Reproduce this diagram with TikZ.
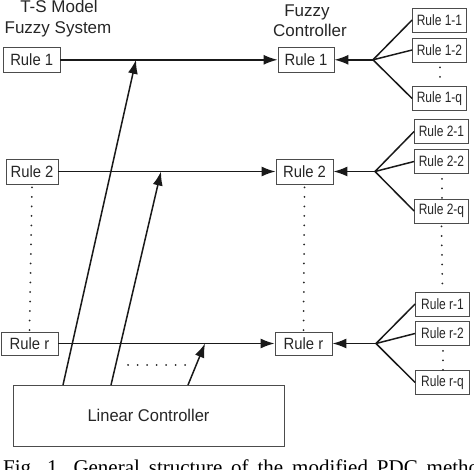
\documentclass[tikz,border=0pt]{standalone}
\usepackage{fontspec}
\setmainfont{Liberation Sans}
\newfontfamily\boxfont{Liberation Sans}[FakeStretch=0.91]
\newfontfamily\rboxfont{Liberation Sans}[FakeStretch=0.8]
\newfontfamily\lcfont{Liberation Sans}[FakeStretch=0.97]
\newfontfamily\capfont{Liberation Serif}
\usetikzlibrary{arrows.meta}
\begin{document}
\begin{tikzpicture}[x=1pt,y=-1pt,
 box/.style={draw=black!70, line width=0.8pt, inner sep=0pt, font=\boxfont\fontsize{16.3}{16.3}\selectfont, text=black!85},
 rbox/.style={draw=black!70, line width=0.8pt, minimum width=54pt, minimum height=24pt, inner sep=0pt, font=\rboxfont\fontsize{15}{15}\selectfont, text=black!85},
 conn/.style={line width=1.5pt, black!90},
 arr/.style={conn, -{Latex[length=14pt,width=10pt]}},
 dotline/.style={line width=2pt, dash pattern=on 0.01pt off 9.5pt, line cap=round, black!85},
 title/.style={font=\fontsize{17}{17}\selectfont, anchor=base, text=black!85}
]
\clip (0,0) rectangle (474,470);
\useasboundingbox (0,0) rectangle (474,470);

% titles
\node[title] (t1) at (59,12.5) {T-S Model};
\node[title] (t2) at (58,33.5) {Fuzzy System};
\node[title] (t3) at (307,17) {Fuzzy};
\node[title] (t4) at (310,37) {Controller};

% left column
\node[box, minimum width=56.5pt, minimum height=25pt] (L1) at (31.7,59.8) {Rule 1};
\node[box, minimum width=52pt, minimum height=25pt] (L2) at (32,171.5) {Rule 2};
\node[box, minimum width=57pt, minimum height=23pt] (Lr) at (29.5,343.5) {Rule r};

% fuzzy controller column
\node[box, minimum width=56pt, minimum height=25pt] (F1) at (306,59.8) {Rule 1};
\node[box, minimum width=57pt, minimum height=25pt] (F2) at (304.5,171.5) {Rule 2};
\node[box, minimum width=57pt, minimum height=23pt] (Fr) at (303.5,343.5) {Rule r};

% right column
\node[rbox] (R11) at (439.5,20) {Rule 1-1};
\node[rbox] (R12) at (439.5,50) {Rule 1-2};
\node[rbox] (R1q) at (439.5,98.5) {Rule 1-q};
\node[rbox] (R21) at (441.5,131.5) {Rule 2-1};
\node[rbox] (R22) at (441.5,161.5) {Rule 2-2};
\node[rbox] (R2q) at (441.5,211) {Rule 2-q};
\node[rbox] (Rr1) at (442.5,304) {Rule r-1};
\node[rbox] (Rr2) at (442.5,333.5) {Rule r-2};
\node[rbox] (Rrq) at (442.5,382.5) {Rule r-q};

% linear controller
\node[draw=black!70, line width=0.8pt, minimum width=271pt, minimum height=61pt, inner sep=0pt,
      font=\lcfont\fontsize{17}{17}\selectfont, text=black!85] (LC) at (148.5,415.5) {Linear Controller};

% caption (cut off at the bottom edge)
\node[anchor=base west, inner sep=0pt, font=\capfont\fontsize{21}{21}\selectfont] (cap) at (3,474)
  {\spaceskip=8.9pt Fig. 1. General structure of the modified PDC method};

% branch points
\coordinate (b1) at (373,59.8);
\coordinate (b2) at (375,171.5);
\coordinate (b3) at (376,343.5);

% arrow tips on the horizontal lines and starts on the linear controller
\coordinate (a1) at (136,59.8);
\coordinate (a2) at (161,171.5);
\coordinate (a3) at (205,343.5);
\coordinate (s1) at (63,385);
\coordinate (s2) at (111,385);
\coordinate (s3) at (188,385);
\coordinate (d1) at (128,364.5);
\coordinate (d2) at (187,364.5);

% horizontal connectors
\draw[arr] (L1.east) -- (F1.west);
\draw[arr] (L2.east) -- (F2.west);
\draw[arr] (Lr.east) -- (Fr.west);
\draw[arr] (b1) -- (F1.east);
\draw[arr] (b2) -- (F2.east);
\draw[arr] (b3) -- (Fr.east);

% branches
\foreach \r in {R11,R12,R1q} \draw[conn] (b1) -- (\r.west);
\foreach \r in {R21,R22,R2q} \draw[conn] (b2) -- (\r.west);
\foreach \r in {Rr1,Rr2,Rrq} \draw[conn] (b3) -- (\r.west);

% linear controller arrows
\draw[arr] (s1) -- (a1);
\draw[arr] (s2) -- (a2);
\draw[arr] (s3) -- (a3);
\draw[dotline] (d1) -- (d2);

% dotted continuations
\draw[dotline] ([yshift=-3pt]L2.south) -- (Lr.north);
\draw[dotline] ([yshift=-3pt]F2.south) -- (Fr.north);
\draw[dotline] ([yshift=-5pt]R12.south) -- (R1q.north);
\draw[dotline] ([yshift=-5pt]R22.south) -- (R2q.north);
\draw[dotline] ([yshift=-3pt]R2q.south) -- (Rr1.north);
\draw[dotline] ([yshift=-5pt]Rr2.south) -- (Rrq.north);
\end{tikzpicture}
\end{document}
